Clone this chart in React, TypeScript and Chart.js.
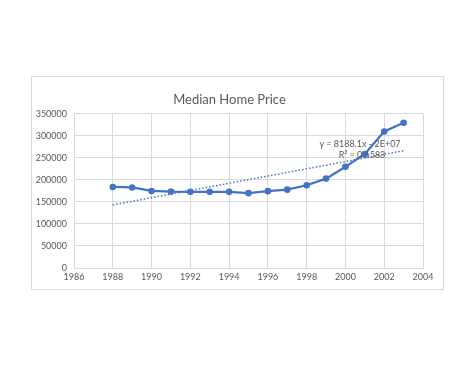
import React, { useEffect, useRef } from "react";
import { Chart, registerables } from "chart.js";

Chart.register(...registerables);

const years = [1988, 1989, 1990, 1991, 1992, 1993, 1994, 1995, 1996, 1997, 1998, 1999, 2000, 2001, 2002, 2003];
const prices = [184000, 183000, 175000, 173500, 173000, 173000, 173000, 170000, 174500, 178000, 188000, 203000, 230000, 259000, 310000, 330000];
const xTicks = [1986, 1988, 1990, 1992, 1994, 1996, 1998, 2000, 2002, 2004];
const yTicks = [0, 50000, 100000, 150000, 200000, 250000, 300000, 350000];
const chartTitle = "Median Home Price";
const trendLabel = ["y = 8188.1x - 2E+07", "R² = 0.6583"];

const FONT = "Lato, 'Open Sans', sans-serif";
const BLUE = "#4472C4";
const GRAY = "#595959";

function regression(xs: number[], ys: number[]) {
  const n = xs.length;
  const mx = xs.reduce((a, b) => a + b, 0) / n;
  const my = ys.reduce((a, b) => a + b, 0) / n;
  let num = 0, den = 0;
  for (let i = 0; i < n; i++) {
    num += (xs[i] - mx) * (ys[i] - my);
    den += (xs[i] - mx) * (xs[i] - mx);
  }
  const slope = num / den;
  return { slope, intercept: my - slope * mx };
}

export default function App() {
  const ref = useRef<HTMLCanvasElement>(null);
  useEffect(() => {
    if (!ref.current) return;
    const { slope, intercept } = regression(years, prices);
    const x0 = years[0];
    const x1 = years[years.length - 1];
    const trend = [
      { x: x0, y: slope * x0 + intercept },
      { x: x1, y: slope * x1 + intercept },
    ];
    const annot = {
      id: "annot",
      afterDatasetsDraw(chart: any) {
        const { ctx, scales } = chart;
        const cx = scales.x.getPixelForValue(2000.75);
        const cy = scales.y.getPixelForValue(281000);
        ctx.save();
        ctx.font = `9px ${FONT}`;
        ctx.fillStyle = GRAY;
        ctx.textAlign = "center";
        ctx.textBaseline = "middle";
        ctx.fillText(trendLabel[0], cx, cy);
        ctx.fillText(trendLabel[1], cx + 2, cy + 11);
        ctx.restore();
      },
    };
    const chart = new Chart(ref.current, {
      type: "scatter",
      data: {
        datasets: [
          {
            data: years.map((x, i) => ({ x, y: prices[i] })),
            showLine: true,
            borderColor: BLUE,
            backgroundColor: BLUE,
            borderWidth: 2.25,
            pointRadius: 3.3,
            pointBorderWidth: 0,
            order: 1,
          },
          {
            data: trend,
            showLine: true,
            borderColor: BLUE,
            borderWidth: 1.5,
            borderDash: [1.5, 2],
            pointRadius: 0,
            order: 2,
          },
        ],
      },
      options: {
        animation: false,
        responsive: false,
        layout: { padding: { left: 4, right: 20, top: 0, bottom: 0 } },
        plugins: {
          legend: { display: false },
          tooltip: { enabled: false },
          title: {
            display: true,
            text: chartTitle,
            color: GRAY,
            font: { family: FONT, size: 13, weight: "normal", lineHeight: 1.3 },
            padding: { top: 14, bottom: 6 },
          },
        },
        scales: {
          x: {
            type: "linear",
            min: xTicks[0],
            max: xTicks[xTicks.length - 1],
            afterBuildTicks(s: any) { s.ticks = xTicks.map((v) => ({ value: v })); },
            ticks: { color: GRAY, font: { family: FONT, size: 9 }, maxRotation: 0, padding: 4, callback: (v: any) => String(v) },
            grid: { color: "#d9d9d9", tickLength: 0 },
            border: { color: "#d9d9d9" },
            afterFit(s: any) { s.height = 21; },
          },
          y: {
            min: yTicks[0],
            max: yTicks[yTicks.length - 1],
            afterBuildTicks(s: any) { s.ticks = yTicks.map((v) => ({ value: v })); },
            ticks: { color: GRAY, font: { family: FONT, size: 9 }, padding: 7, callback: (v: any) => String(v) },
            grid: { color: "#d9d9d9", tickLength: 0 },
            border: { color: "#d9d9d9" },
            afterFit(s: any) { s.width = 38; },
          },
        },
      },
      plugins: [annot],
    });
    return () => chart.destroy();
  }, []);
  return (
    <div style={{ position: "fixed", left: 0, top: 0, width: 474, height: 366, background: "#fff" }}>
      <div style={{ position: "absolute", left: 31, top: 76, width: 411, height: 212, border: "1px solid #d9d9d9" }}>
        <canvas ref={ref} width={411} height={212} style={{ display: "block" }} />
      </div>
    </div>
  );
}
